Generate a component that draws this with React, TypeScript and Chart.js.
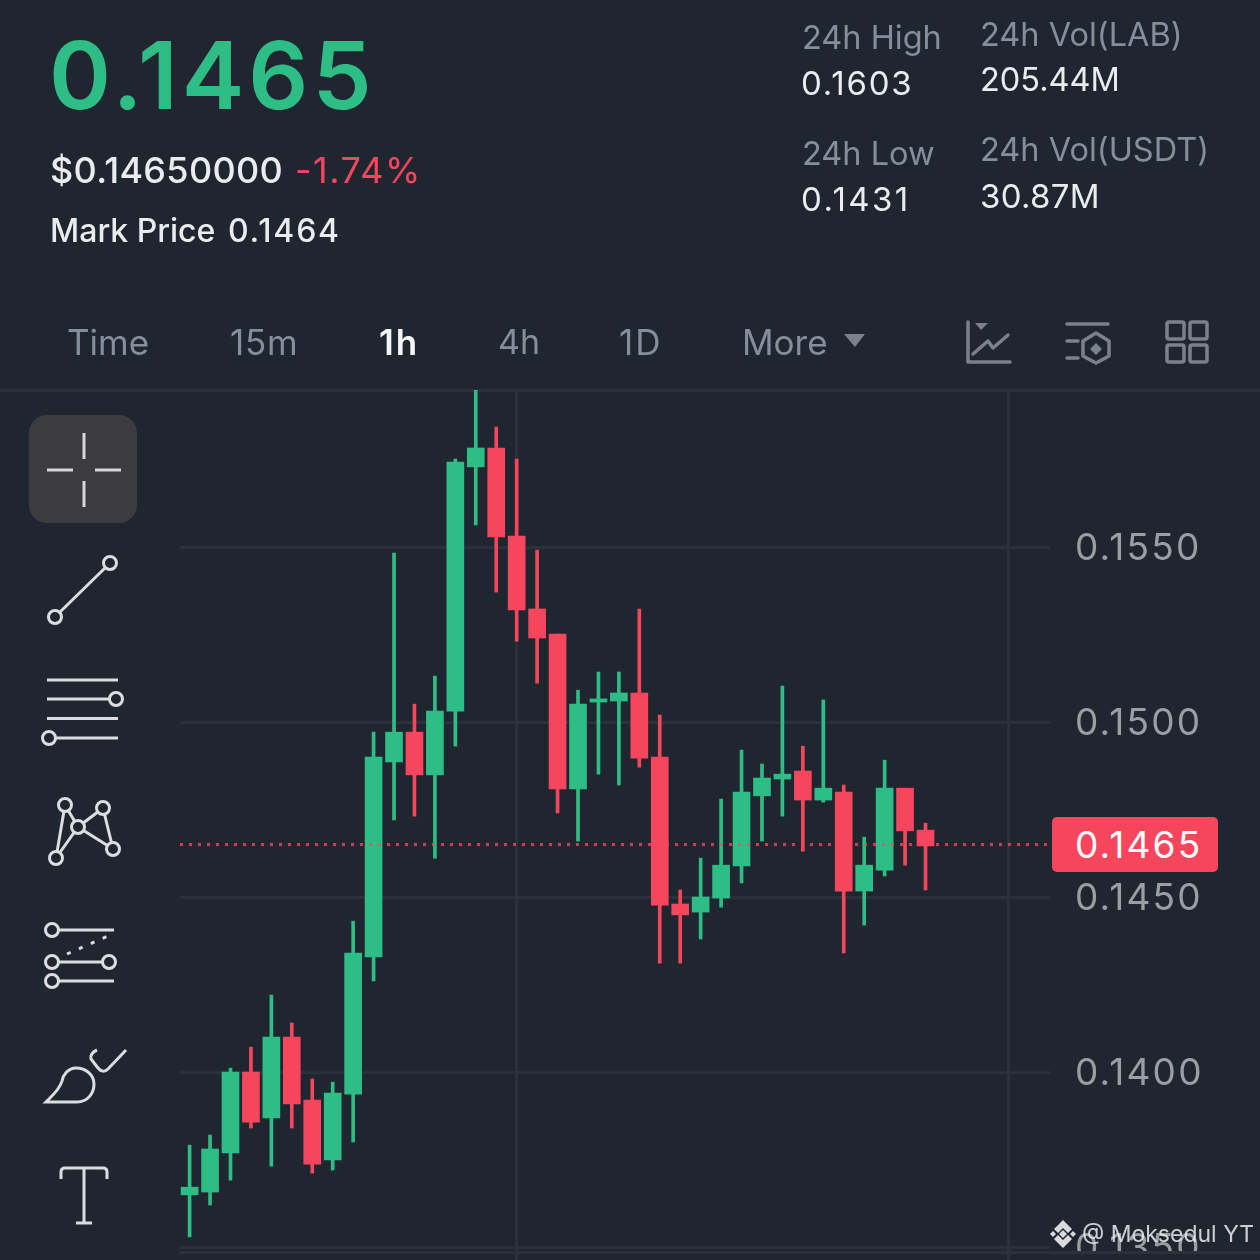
import React, { useEffect, useRef } from "react";
import { Chart, registerables } from "chart.js";

Chart.register(...registerables);

const opens = [0.13649,0.13657,0.13769,0.14000,0.13869,0.14100,0.13920,0.13749,0.13937,0.14329,0.14886,0.14971,0.14849,0.15031,0.15729,0.15783,0.15531,0.15323,0.15251,0.14809,0.15057,0.15060,0.15083,0.14900,0.14480,0.14457,0.14497,0.14589,0.14789,0.14837,0.14860,0.14777,0.14800,0.14517,0.14577,0.14811,0.14691];
const highs = [0.13791,0.13820,0.14011,0.14071,0.14220,0.14140,0.13980,0.13971,0.14431,0.14971,0.15483,0.15051,0.15131,0.15751,0.16030,0.15843,0.15751,0.15491,0.15251,0.15091,0.15143,0.15143,0.15323,0.15020,0.14520,0.14611,0.14780,0.14920,0.14880,0.15103,0.14931,0.15063,0.14820,0.14671,0.14891,0.14811,0.14711];
const lows = [0.13529,0.13620,0.13691,0.13840,0.13731,0.13840,0.13711,0.13720,0.13800,0.14260,0.14720,0.14731,0.14611,0.14931,0.15563,0.15371,0.15231,0.15111,0.14740,0.14660,0.14851,0.14820,0.14871,0.14311,0.14311,0.14380,0.14471,0.14540,0.14660,0.14731,0.14631,0.14771,0.14340,0.14420,0.14560,0.14591,0.14520];
const closes = [0.13671,0.13780,0.14000,0.13857,0.14100,0.13909,0.13737,0.13940,0.14340,0.14900,0.14971,0.14849,0.15031,0.15743,0.15783,0.15529,0.15320,0.15240,0.14809,0.15051,0.15066,0.15083,0.14897,0.14477,0.14449,0.14500,0.14591,0.14800,0.14840,0.14851,0.14777,0.14811,0.14517,0.14591,0.14811,0.14689,0.14646];
const priceTicks = [0.155, 0.15, 0.145, 0.14, 0.135];
const timeGridCandles = [16, 40.08];
const lastPrice = 0.1465;

const BG = "#1f2630";
const GREEN = "#2ebd85";
const RED = "#f6465d";
const GRID = "#2a313b";
const FONT = "Inter, 'Noto Sans', sans-serif";
const ICON = "#7b818c";
const TOOL = "#dcdde0";

function T(p: { x: number; y: number; s: number; c: string; w?: number; ls?: number; children: string }) {
  return (
    <div
      style={{
        position: "absolute",
        left: p.x,
        top: p.y,
        transform: "translateY(-50%)",
        fontFamily: FONT,
        fontSize: p.s,
        color: p.c,
        fontWeight: p.w ?? 400,
        letterSpacing: p.ls ?? 0,
        lineHeight: 1,
        whiteSpace: "nowrap",
      }}
    >
      {p.children}
    </div>
  );
}

const tickSpacing = {
  id: "tickSpacing",
  beforeDraw(chart: any) {
    chart.ctx.letterSpacing = "2.2px";
  },
};

export default function App() {
  const ref = useRef<HTMLCanvasElement>(null);
  useEffect(() => {
    const xMin = -0.47;
    const xMax = 42.09;
    const colors = opens.map((o, i) => (closes[i] >= o ? GREEN : RED));
    const chart = new Chart(ref.current!, {
      type: "bar",
      plugins: [tickSpacing],
      data: {
        datasets: [
          {
            type: "line",
            data: [
              { x: xMin, y: lastPrice },
              { x: xMax, y: lastPrice },
            ],
            borderColor: "rgba(246,70,93,0.8)",
            borderWidth: 3,
            borderDash: [3, 6],
            pointRadius: 0,
            order: 0,
          },
          {
            data: opens.map((o, i) => ({ x: i, y: [Math.min(o, closes[i]), Math.max(o, closes[i])] })),
            backgroundColor: colors,
            barThickness: 17,
            grouped: false,
            order: 1,
          },
          {
            data: opens.map((_, i) => ({ x: i, y: [lows[i], highs[i]] })),
            backgroundColor: colors,
            barThickness: 3,
            grouped: false,
            order: 2,
          },
        ] as any,
      },
      options: {
        responsive: false,
        animation: false,
        devicePixelRatio: 1,
        layout: { padding: { left: 180, top: 390, right: 0, bottom: 0 } },
        plugins: { legend: { display: false }, tooltip: { enabled: false } },
        scales: {
          x: {
            type: "linear",
            offset: false,
            min: xMin,
            max: xMax,
            afterBuildTicks: (s: any) => {
              s.ticks = timeGridCandles.map((value) => ({ value }));
            },
            grid: { color: GRID, lineWidth: 3, drawTicks: false, offset: false },
            border: { display: false },
            ticks: { display: false },
            afterFit: (s: any) => {
              s.height = 0;
              s.paddingLeft = 0;
              s.paddingRight = 0;
            },
          },
          y: {
            position: "right",
            min: 0.134629,
            max: 0.159486,
            afterBuildTicks: (s: any) => {
              s.ticks = priceTicks.map((value) => ({ value }));
            },
            afterFit: (s: any) => {
              s.width = 210;
              s.paddingTop = 0;
              s.paddingBottom = 0;
            },
            grid: { color: GRID, lineWidth: 3, drawTicks: false },
            border: { display: false },
            ticks: {
              color: "#9b9ea3",
              padding: 25,
              labelOffset: 1.5,
              font: { family: "Inter", size: 37 },
              callback: (v: any) => Number(v).toFixed(4),
            },
          },
        },
      } as any,
    });
    return () => chart.destroy();
  }, []);

  return (
    <div style={{ position: "absolute", left: 0, top: 0, width: 1260, height: 1260, background: BG, overflow: "hidden" }}>
      <div style={{ position: "absolute", left: 0, top: 389, width: 1260, height: 3, background: GRID }} />

      <canvas ref={ref} width={1260} height={1260} style={{ position: "absolute", left: 0, top: 0, width: 1260, height: 1260 }} />

      <div style={{ position: "absolute", left: 1050, top: 1251, width: 210, height: 9, background: BG }} />
      <div style={{ position: "absolute", left: 179, top: 1251, width: 1081, height: 3, background: GRID }} />

      <T x={49} y={75} s={94} c={GREEN} w={600} ls={4}>0.1465</T>
      <T x={50} y={170} s={36} c="#eaecef" w={500} ls={0.3}>$0.14650000</T>
      <T x={295} y={170} s={36} c={RED} ls={1.5}>-1.74%</T>
      <T x={50} y={231} s={32} c="#eaecef" w={500}>Mark Price</T>
      <T x={228} y={231} s={32} c="#eaecef" w={500} ls={1.8}>0.1464</T>

      <T x={802} y={38} s={32.5} c="#848e9c">24h High</T>
      <T x={801} y={83} s={33} c="#eaecef" ls={1.8}>0.1603</T>
      <T x={802} y={154} s={32.5} c="#848e9c">24h Low</T>
      <T x={801} y={199} s={33} c="#eaecef" ls={2.4}>0.1431</T>
      <T x={980} y={35} s={32.5} c="#848e9c">24h Vol(LAB)</T>
      <T x={980} y={80} s={32.5} c="#eaecef">205.44M</T>
      <T x={980} y={150} s={32.5} c="#848e9c">24h Vol(USDT)</T>
      <T x={980} y={196} s={33} c="#eaecef" ls={0.3}>30.87M</T>

      <T x={67} y={342} s={35} c="#848e9c">Time</T>
      <T x={230} y={342} s={35} c="#848e9c" ls={0.7}>15m</T>
      <T x={379} y={342} s={35} c="#f5f6f7" w={600} ls={2}>1h</T>
      <T x={498} y={342} s={34} c="#848e9c">4h</T>
      <T x={619} y={342} s={35} c="#848e9c" ls={2}>1D</T>
      <T x={742} y={342} s={35} c="#848e9c">More</T>

      <div
        style={{
          position: "absolute",
          left: 1052,
          top: 817,
          width: 166,
          height: 55,
          borderRadius: 5,
          background: RED,
        }}
      />
      <T x={1075} y={843.5} s={37} c="#ffffff" ls={2.2}>0.1465</T>

      <svg width={1260} height={1260} style={{ position: "absolute", left: 0, top: 0 }} fill="none" strokeLinecap="butt">
        <polygon points="844,334 865,334 855,347" fill={ICON} />

        <g stroke={ICON} strokeWidth={3.5} strokeLinecap="round" strokeLinejoin="round">
          <path d="M968 322V362H1010" />
          <path d="M973 354L988 341L993 348L1008 335" />
          <path d="M1067 324H1108M1067 341H1078M1067 358H1078" />
          <polygon points="1096,333 1109,341 1109,356 1096,363 1083,356 1083,341" />
          <rect x={1167} y={322} width={17} height={17} rx={2} />
          <rect x={1190} y={322} width={17} height={17} rx={2} />
          <rect x={1167} y={345} width={17} height={17} rx={2} />
          <rect x={1190} y={345} width={17} height={17} rx={2} />
        </g>
        <polygon points="975,323 988,323 981,330" fill={ICON} />
        <polygon points="1096,343 1102,349 1096,355 1090,349" fill={ICON} />

        <rect x={29} y={415} width={108} height={108} rx={18} fill="#3c3c3e" />
        <path d="M84 433V459M84 481V507M47 470H73M95 470H121" stroke="#d5d7da" strokeWidth={3} />

        <g stroke={TOOL} strokeWidth={3}>
          <path d="M60 612L105 568" />
          <circle cx={110} cy={563} r={6.5} />
          <circle cx={55} cy={617} r={6.5} />

          <path d="M47 680H118M47 699H110M47 718.5H118M55 738H118" />
          <circle cx={116} cy={699} r={6.5} />
          <circle cx={49} cy={738} r={6.5} />

          <path d="M65 805L56 858M65 805L78 827M56 858L78 827M78 827L103 808M78 827L113 849M103 808L113 849" />
          <circle cx={65} cy={805} r={6.5} fill={BG} />
          <circle cx={103} cy={808} r={6.5} fill={BG} />
          <circle cx={78} cy={827} r={6.5} fill={BG} />
          <circle cx={113} cy={849} r={6.5} fill={BG} />
          <circle cx={56} cy={858} r={6.5} fill={BG} />

          <path d="M59 930H114M59 962H103M59 981H114" />
          <path d="M67 954L108 936" strokeDasharray="4 9" />
          <circle cx={52} cy={930} r={6.5} />
          <circle cx={52} cy={962} r={6.5} />
          <circle cx={109} cy={962} r={6.5} />
          <circle cx={52} cy={981} r={6.5} />

          <path d="M46 1102H77C88 1102 94 1093 94 1084C94 1075 86 1068 76 1068C68 1068 63 1075 62 1081C60 1089 52 1096 46 1102Z" />
          <path d="M97 1050C92 1052 90 1056 91 1059L98 1068C101 1072 105 1072 108 1069L126 1050" />

          <path d="M61 1179V1172Q61 1168 65 1168H103Q107 1168 107 1172V1179M84 1168V1223M76 1223H92" />
        </g>

        <g fill="#d9dadc">
          <polygon points="1063,1220 1072,1229 1068,1233 1063,1228 1058,1233 1054,1229" />
          <polygon points="1063,1248 1072,1239 1068,1235 1063,1240 1058,1235 1054,1239" />
          <polygon points="1063,1230 1067,1234 1063,1238 1059,1234" />
          <polygon points="1053,1231 1056,1234 1053,1237 1050,1234" />
          <polygon points="1073,1231 1076,1234 1073,1237 1070,1234" />
        </g>
      </svg>
      <T x={1082} y={1234} s={23} c="rgba(235,236,238,0.85)">@ Moksedul YT</T>
    </div>
  );
}
